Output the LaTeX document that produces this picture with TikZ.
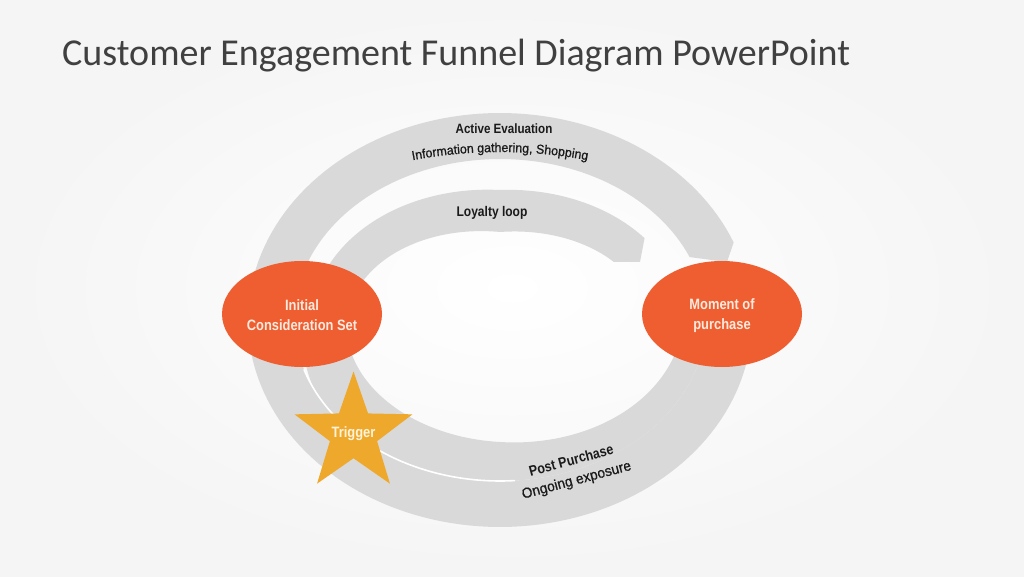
\documentclass[tikz,border=0pt]{standalone}
\usepackage{fontspec}
\usetikzlibrary{shapes.geometric,decorations.text}
\newfontfamily\titlefont{Carlito}
\newfontfamily\labfont[FakeStretch=0.86]{Liberation Sans}
\newfontfamily\subfont[FakeStretch=0.95,FakeBold=0.8]{Liberation Sans}
\definecolor{bandgray}{HTML}{D9D9D9}
\definecolor{ored}{HTML}{EE5E30}
\definecolor{gold}{HTML}{EEA92C}
\definecolor{titlegray}{HTML}{404040}
\definecolor{paletxt}{HTML}{FDEADF}
\definecolor{startxt}{HTML}{FFF3DA}
\definecolor{labtxt}{HTML}{1A1A1A}
\newcommand\infofont{\subfont\fontsize{13}{15}\selectfont}
\begin{document}
\begin{tikzpicture}[x=1pt,y=1pt,
  declare function={
    dout(\t)=(\t<90)?(25+6*(\t-37)/53):((\t<158)?(31-11*(\t-90)/68):((\t<205)?(20*(205-\t)/47):0));
    din(\t)=(\t<90)?(64+9*(\t-37)/53):((\t<180)?(73-20*(\t-90)/90):((\t<270)?(53-14*(\t-180)/90):(39-14*(\t-270)/77)));
  },
  band/.style={fill=bandgray},
  hub/.style={ellipse, fill=ored, minimum width=160pt, minimum height=106pt, inner sep=0pt,
    text=paletxt, font=\labfont\bfseries\fontsize{15}{20}\selectfont, align=center},
  trigstar/.style={star, star points=5, star point ratio=2.5, minimum size=124pt, inner sep=0pt, fill=gold},
  lbl/.style={text=labtxt, inner sep=0pt, align=center}
]
\useasboundingbox (0,0) rectangle (1024,576);
\shade[inner color=white, outer color=black!4] (0,0) rectangle (1024,576);

% title
\node[anchor=base west, inner sep=0pt, text=titlegray, font=\titlefont\fontsize{38}{44}\selectfont]
  (title) at (62,510) {Customer Engagement Funnel Diagram PowerPoint};

% outer band (active evaluation / post purchase)
\fill[band] plot[domain=22:352, samples=160, variable=\t] ({500+252*cos(\t)},{256+207*sin(\t)})
  -- plot[domain=352:23, samples=160, variable=\t] ({500+206*cos(\t)},{256+161*sin(\t)})
  -- (727,314) -- cycle;

% loyalty loop (spiral band)
\fill[band] plot[domain=37:352, samples=180, variable=\t] ({500+(206-dout(\t))*cos(\t)},{256+(161-dout(\t))*sin(\t)})
  -- plot[domain=352:36.7, samples=180, variable=\t] ({500+(206-din(\t))*cos(\t)},{256+(161-din(\t))*sin(\t)})
  -- (640,314) -- cycle;

% white separation line
\draw[white, line width=1.6pt, line cap=round] plot[domain=198:274, samples=60, variable=\t] ({500+206*cos(\t)},{256+161*sin(\t)});

% hubs
\node[hub] (ics) at (302,262) {\rule{0pt}{14pt}Initial\\Consideration Set};
\node[hub] (mop) at (722,262) {\rule{0pt}{14pt}Moment of\\purchase};

% trigger star
\node[trigstar] (trig) at (353.5,142.5) {};
\node[text=startxt, inner sep=0pt, font=\labfont\bfseries\fontsize{15}{18}\selectfont] (trigtxt) at (trig.center) {Trigger};

% band labels
\node[lbl, anchor=base, font=\labfont\bfseries\fontsize{13.5}{15}\selectfont] (ae) at (504,442) {Active Evaluation};
\path[decorate, decoration={text along path, text={|\infofont|Information gathering, Shopping}, text align=center, text color=labtxt}]
  (386.3,410) arc[start angle=104, end angle=76, radius=470];
\node[lbl, anchor=base, font=\labfont\bfseries\fontsize{14}{16}\selectfont] (ll) at (492,359) {Loyalty loop};
\node[lbl, rotate=15, font=\fontsize{14.5}{20}\selectfont] (pp) at (574,105) {{\labfont\bfseries Post Purchase}\\{\subfont Ongoing exposure}};
\end{tikzpicture}
\end{document}
